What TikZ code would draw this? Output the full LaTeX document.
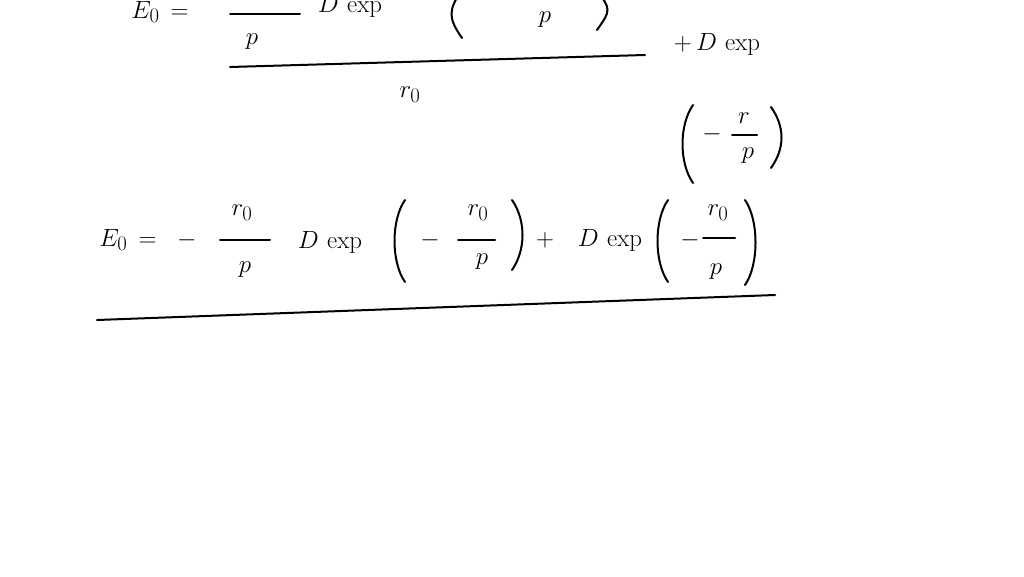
\documentclass[tikz,border=0pt]{standalone}
\begin{document}
\begin{tikzpicture}[x=1pt,y=-1pt,
 t/.style={inner sep=0pt,font=\fontsize{30}{34}\selectfont},
 ln/.style={line width=2pt,line cap=round}]
\useasboundingbox[fill=white] (0,0) rectangle (1024,576);
\def\lpar#1#2#3{\draw[ln] (#1,#2) .. controls (#1-14,#2+20) and (#1-14,#3-20) .. (#1,#3);}
\def\rpar#1#2#3{\draw[ln] (#1,#2) .. controls (#1+14,#2+20) and (#1+14,#3-20) .. (#1,#3);}
% top (cut) equation
\node[t] (e1) at (160,12) {$E_0\,=$};
\draw[ln] (230,14) -- (300,14);
\node[t] (p1) at (252,42) {$p$};
\node[t] (d1) at (350,6) {$D\,\exp$};
\lpar{462}{-10}{38}
\draw[ln] (515,-2) -- (585,-2);
\node[t] (p2) at (545,20) {$p$};
\rpar{597}{-10}{30}
\draw[ln] (230,67) -- (645,55);
\node[t] (d2) at (717,44) {$+\,D\,\exp$};
\node[t] (r0) at (410,95) {$r_0$};
\lpar{693}{105}{183}
\node[t] (m1) at (712,134) {$-$};
\node[t] (rr) at (744,118) {$r$};
\draw[ln] (732,135) -- (757,135);
\node[t] (pp) at (748,156) {$p$};
\rpar{771}{107}{168}
% second equation
\node[t] (e2) at (148,240) {$E_0\,=\;\;-$};
\node[t] (n1) at (242,213) {$r_0$};
\draw[ln] (220,240) -- (270,240);
\node[t] (dd1) at (245,270) {$p$};
\node[t] (d3) at (330,242) {$D\,\exp$};
\lpar{405}{200}{282}
\node[t] (m2) at (430,240) {$-$};
\node[t] (n2) at (478,213) {$r_0$};
\draw[ln] (458,240) -- (495,240);
\node[t] (dd2) at (482,262) {$p$};
\rpar{512}{200}{270}
\node[t] (pl) at (545,240) {$+$};
\node[t] (d4) at (610,240) {$D\,\exp$};
\lpar{668}{200}{282}
\node[t] (m3) at (690,240) {$-$};
\node[t] (n3) at (718,213) {$r_0$};
\draw[ln] (703,238) -- (735,238);
\node[t] (dd3) at (716,272) {$p$};
\rpar{745}{200}{285}
\draw[ln] (97,320) -- (775,295);
\end{tikzpicture}
\end{document}
